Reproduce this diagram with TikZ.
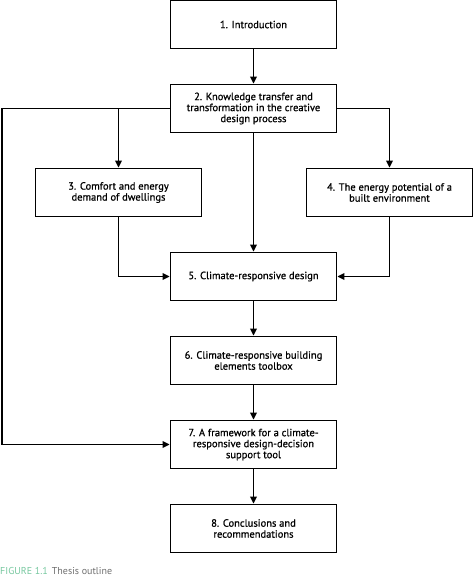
\documentclass[tikz,border=0pt]{standalone}
\usepackage{fontspec}
\setmainfont{PT Sans}
\newfontfamily\medfont{PT Sans}[FakeBold=0.8]
\usetikzlibrary{arrows.meta}
\definecolor{capgreen}{RGB}{120,200,160}
\definecolor{capgray}{RGB}{110,110,110}
\begin{document}
\begin{tikzpicture}[x=1pt,y=-1pt,
  box/.style={draw,line width=1.7pt,minimum width=166pt,minimum height=48pt,
    inner sep=0pt,align=center,font=\medfont\fontsize{10.5}{11}\selectfont},
  arr/.style={line width=1.7pt,-{Triangle[length=7pt,width=6.5pt]}},
  ln/.style={line width=1.7pt}]
\useasboundingbox (0,0) rectangle (474,577);
\clip (0,0) rectangle (474,577);
\node[box] (b1) at (253.5,24.5) {1. Introduction};
\node[box] (b2) at (253.5,108.5) {2. Knowledge transfer and\\transformation in the creative\\design process};
\node[box] (b3) at (118.5,192.5) {3. Comfort and energy\\demand of dwellings};
\node[box] (b4) at (389.5,192.5) {4. The energy potential of a\\built environment};
\node[box] (b5) at (253.5,276.5) {5. Climate-responsive design};
\node[box] (b6) at (253.5,360.5) {6. Climate-responsive building\\elements toolbox};
\node[box] (b7) at (253.5,444.5) {7. A framework for a climate-\\responsive design-decision\\support tool};
\node[box] (b8) at (253.5,528.5) {8. Conclusions and\\recommendations};
\coordinate (L) at (2,108.5);
\draw[arr] (b1) -- (b2);
\draw[arr] (b2.west) -| (b3.north);
\draw[arr] (b2.east) -| (b4.north);
\draw[arr] (b2) -- (b5);
\draw[arr] (b3.south) |- (b5.west);
\draw[arr] (b4.south) |- (b5.east);
\draw[arr] (b5) -- (b6);
\draw[arr] (b6) -- (b7);
\draw[arr] (b7) -- (b8);
\draw[ln] (b2.west) -- (L);
\draw[arr] (L) |- (b7.west);
\node[anchor=base west,inner sep=0pt,font=\fontsize{10}{11}\selectfont] (cap) at (0,574)
  {\textcolor{capgreen}{FIGURE 1.1}\hspace{4pt}\textcolor{capgray}{Thesis outline}};
\end{tikzpicture}
\end{document}
